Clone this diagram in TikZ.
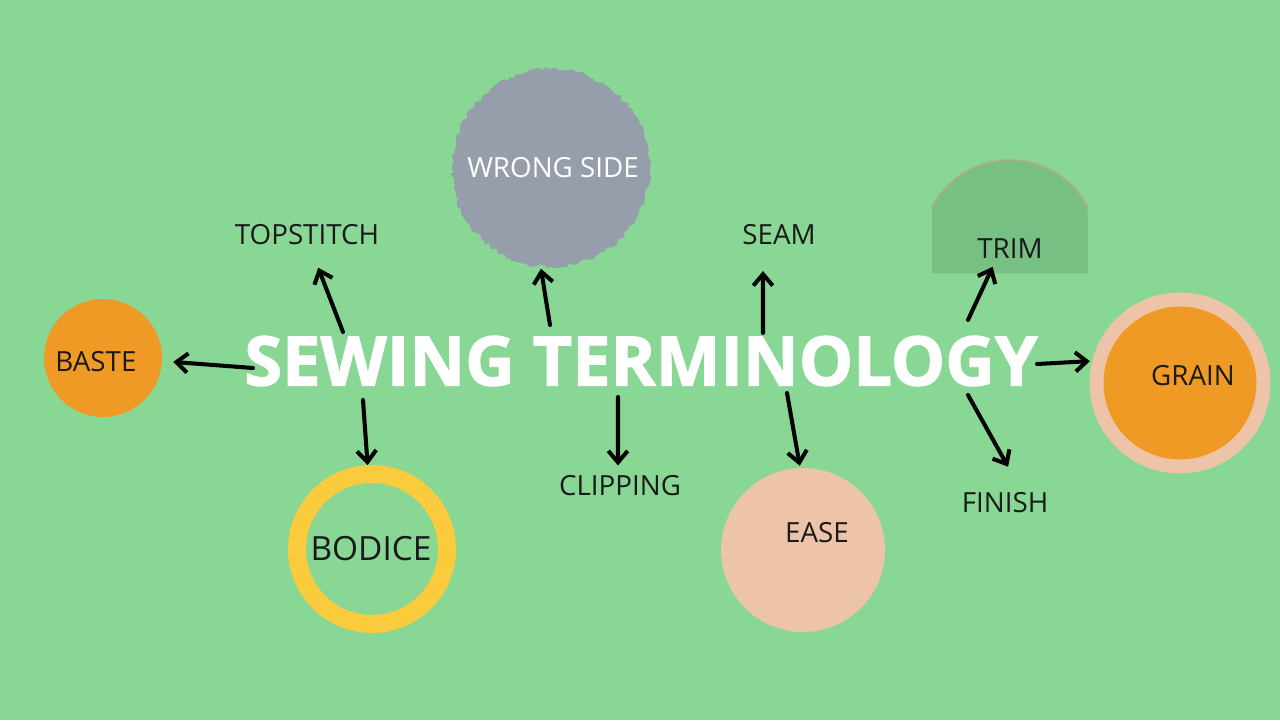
\documentclass[tikz,border=0pt]{standalone}
\usepackage{fontspec}
\setmainfont{Open Sans}
\newfontfamily\titlefont{Open Sans}[BoldFeatures={FakeBold=1.6}]
\usepackage{xcolor}
\usepackage{tikz}
\usetikzlibrary{positioning,arrows.meta,decorations.pathmorphing}
\definecolor{LeafGreen}{HTML}{88D794}
\definecolor{DomeGreen}{HTML}{77BF83}
\definecolor{DomeRim}{HTML}{B8A888}
\definecolor{PinOrange}{HTML}{F09A26}
\definecolor{Peach}{HTML}{EEC4A8}
\definecolor{Thread}{HTML}{FACB3C}
\definecolor{Slate}{HTML}{969EAC}
\definecolor{Ink}{HTML}{1A1A1A}

\begin{document}
\begin{tikzpicture}[
    x=0.02cm, y=-0.02cm,
    >={Straight Barb[length=6.5pt,width=11pt]},
    term/.style={text=Ink, inner sep=2pt, font=\fontsize{15.8}{18}\selectfont},
    blob/.style={circle, inner sep=0pt},
    link/.style={->, line width=2.3pt, line cap=round}
  ]
    \fill[LeafGreen] (0,0) rectangle (1280,720);
    \useasboundingbox (0,0) rectangle (1280,720);

    \node[blob, fill=Slate, minimum size=3.96cm, decorate,
      decoration={random steps, segment length=2pt, amplitude=1.2pt}] (wrong) at (551,168) {};
    \fill[DomeGreen] (932,273) -- (932,207) arc[start angle=-152.2, end angle=-27.8, radius=88] -- (1088,273) -- cycle;
    \draw[DomeRim, line width=1.2pt, opacity=.7] (932,207) arc[start angle=-152.2, end angle=-27.8, radius=88];
    \node[blob, fill=PinOrange, minimum size=2.36cm] (baste) at (103,358) {};
    \node[blob, fill=Peach, minimum size=3.62cm] (grainring) at (1180,383) {};
    \node[blob, fill=PinOrange, minimum size=3.06cm] (graindot) at (1180,383) {};
    \node[blob, fill=Peach, minimum size=3.28cm] (ease) at (803,550) {};
    \node[blob, draw=Thread, line width=0.36cm, minimum size=3cm] (bodice) at (372,549) {};

    \node[term] (bastelbl) at (96,362) {BASTE};
    \node[term] (topstitch) at (307,235) {TOPSTITCH};
    \node[term, text=white] (wronglbl) at (553,168) {WRONG SIDE};
    \node[term] (seam) at (779,235) {SEAM};
    \node[term] (trim) at (1010,249) {TRIM};
    \node[term] (grainlbl) at (1193,376) {GRAIN};
    \node[term] (finish) at (1005,503) {FINISH};
    \node[term] (easelbl) at (817,533) {EASE};
    \node[term] (clipping) at (620,486) {CLIPPING};
    \node[term, font=\fontsize{19}{22}\selectfont] (bodicelbl) at (371,549) {BODICE};

    \coordinate (from-baste) at (253,368);
    \coordinate (from-top) at (343,332);
    \coordinate (from-wrong) at (550,325);
    \coordinate (from-seam) at (763,333);
    \coordinate (from-trim) at (968,320);
    \coordinate (from-grain) at (1037,364);
    \coordinate (from-finish) at (968,395);
    \coordinate (from-ease) at (787,393);
    \coordinate (from-clip) at (618,397);
    \coordinate (from-bodice) at (363,400);

    \draw[link, shorten >=0.22cm] (from-baste) -- (baste.-3);
    \draw[link, shorten >=0.4cm] (from-top) -- ([xshift=0.08cm]topstitch.south);
    \draw[link, shorten >=0.04cm] (from-wrong) -- (wrong.-96);
    \draw[link, shorten >=0.44cm] (from-seam) -- ([xshift=-0.32cm]seam.south);
    \draw[link, shorten >=0.09cm] (from-trim) -- ([xshift=-0.31cm]trim.south);
    \draw[link, shorten >=0.04cm] (from-grain) -- (grainring.166.6);
    \draw[link, shorten >=0.51cm] (from-finish) -- ([xshift=0.31cm]finish.north);
    \draw[link, shorten >=0.04cm] (from-ease) -- (ease.92);
    \draw[link, shorten >=0.13cm] (from-clip) -- ([xshift=-0.04cm]clipping.north);
    \draw[link] (from-bodice) -- (bodice.93);

    \node[text=white, font=\fontsize{39}{39}\selectfont\titlefont\bfseries] (title) at (641,361) {SEWING TERMINOLOGY};
  \end{tikzpicture}
\end{document}
